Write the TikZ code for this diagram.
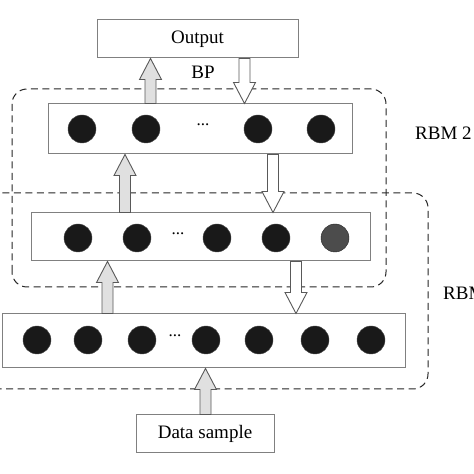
\documentclass[tikz,border=0pt]{standalone}
\usepackage{fontspec}
\setmainfont{Liberation Serif}
\usetikzlibrary{calc}
\tikzset{
  layer/.style={draw=black!50, line width=1pt, fill=white, inner sep=0pt},
  unit/.style={circle, fill=black!90, draw=black!70, line width=0.4pt, minimum size=28pt, inner sep=0pt},
  greyunit/.style={unit, fill=black!70, draw=black!85},
  grp/.style={draw=black!85, line width=1pt, dash pattern=on 7pt off 4.5pt, rounded corners=15pt},
  uparr/.style={draw=black!65, line width=0.9pt, fill=black!12},
  downarr/.style={draw=black!65, line width=0.9pt, fill=white},
  lbl/.style={font=\fontsize{19}{22}\selectfont},
  dotsl/.style={font=\fontsize{17}{18}\selectfont}
}
\newcommand\blockup[3]{\draw[uparr] let \p1=(#2), \p2=(#3) in
  ({#1-5.5},\y1) -- ({#1-5.5},{\y2-21}) -- ({#1-11},{\y2-21}) -- (#1,\y2) --
  ({#1+11},{\y2-21}) -- ({#1+5.5},{\y2-21}) -- ({#1+5.5},\y1) -- cycle;}
\newcommand\blockdown[3]{\draw[downarr] let \p1=(#2), \p2=(#3) in
  ({#1-5.5},\y1) -- ({#1-5.5},{\y2+21}) -- ({#1-11},{\y2+21}) -- (#1,\y2) --
  ({#1+11},{\y2+21}) -- ({#1+5.5},{\y2+21}) -- ({#1+5.5},\y1) -- cycle;}
\begin{document}
\begin{tikzpicture}[x=1pt,y=1pt]
\useasboundingbox (0,0) rectangle (474,474);
\clip (0,0) rectangle (474,474);
\fill[white] (0,0) rectangle (474,474);

% dashed groups
\draw[grp] (12,187) rectangle (386,385);
\draw[grp] (-30,85) rectangle (428,281);

% boxes
\node[layer, minimum width=201pt, minimum height=38pt, lbl] (out) at (197.5,435) {Output};
\node[layer, minimum width=304pt, minimum height=50pt] (l3) at (200,345) {};
\node[layer, minimum width=339pt, minimum height=48pt] (l2) at (200.5,237) {};
\node[layer, minimum width=403pt, minimum height=54pt] (l1) at (203.5,133) {};
\node[layer, minimum width=138pt, minimum height=38pt, lbl] (data) at (205,40) {Data sample};

% layer 3 units
\node[unit] (a1) at (82,345) {};
\node[unit] (a2) at (146,345) {};
\node[dotsl] (ad) at (203,349) {...};
\node[unit] (a3) at (258,345) {};
\node[unit] (a4) at (321,345) {};

% layer 2 units
\node[unit] (b1) at (78,236) {};
\node[unit] (b2) at (137,236) {};
\node[dotsl] (bd) at (178,240) {...};
\node[unit] (b3) at (217,236) {};
\node[unit] (b4) at (276,236) {};
\node[greyunit] (b5) at (335,236) {};

% layer 1 units
\node[unit] (c1) at (37,134) {};
\node[unit] (c2) at (88,134) {};
\node[unit] (c3) at (142,134) {};
\node[dotsl] (cd) at (175,138) {...};
\node[unit] (c4) at (206,134) {};
\node[unit] (c5) at (259,134) {};
\node[unit] (c6) at (315,134) {};
\node[unit] (c7) at (371,134) {};

% arrows
\blockup{150.5}{l3.north}{out.south}
\blockdown{244.5}{out.south}{l3.north}
\blockup{125}{l2.north}{l3.south}
\blockdown{273}{l3.south}{l2.north}
\blockup{107.5}{l1.north}{l2.south}
\blockdown{296}{l2.south}{l1.north}
\blockup{205.5}{data.north}{l1.south}

% labels
\node[lbl] (bp) at (203,402) {BP};
\node[lbl, anchor=west, inner sep=0pt] (rbm2) at (415,341) {RBM 2};
\node[lbl, anchor=west, inner sep=0pt] (rbm1) at (443,181) {RBM 1};
\end{tikzpicture}
\end{document}
